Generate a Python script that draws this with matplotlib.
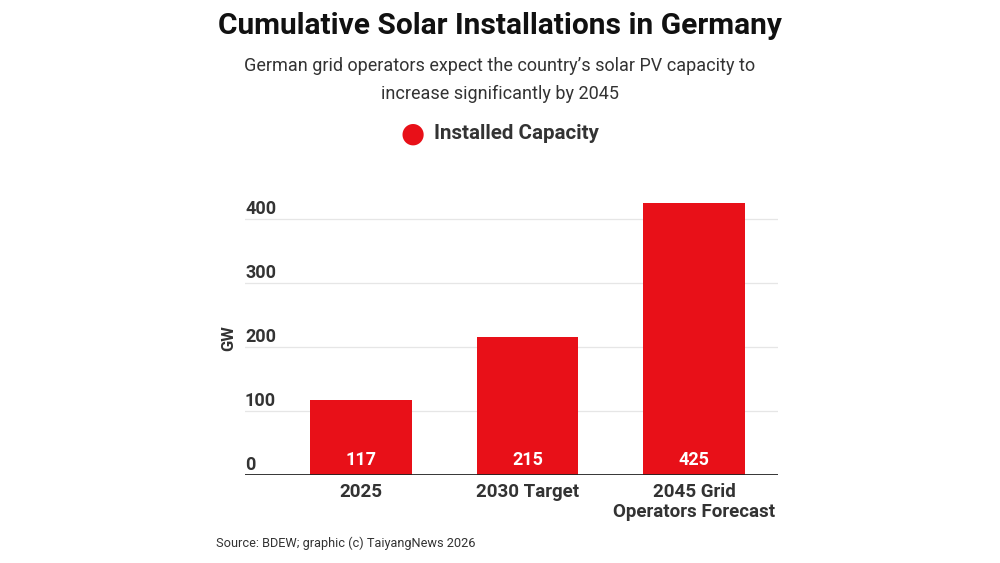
import matplotlib.pyplot as plt

categories = ['2025', '2030 Target', '2045 Grid\nOperators Forecast']
capacity = [117, 215, 425]
y_ticks = [0, 100, 200, 300, 400]

bar_color = '#e81018'
text_color = '#333333'

plt.rcParams['font.family'] = ['Roboto', 'DejaVu Sans']

fig = plt.figure(figsize=(10, 5.63), dpi=100)
ax = fig.add_axes([0.245, 0.1563, 0.533, 0.4831])

x = list(range(len(categories)))
bars = ax.bar(x, capacity, width=0.61, color=bar_color, zorder=2)
ax.set_xlim(-0.697, 2.505)
ax.set_ylim(0, 425)

# grid lines with labels sitting on top of them
for t in y_ticks:
    if t > 0:
        ax.axhline(t, color='#e6e6e6', lw=0.9, zorder=1)
    ax.annotate(str(t), xy=(0, t), xycoords=('axes fraction', 'data'),
                xytext=(0, 0.5), textcoords='offset points',
                ha='left', va='bottom', fontsize=13, fontweight='bold',
                color=text_color)
ax.axhline(0, color='#222222', lw=2, zorder=3)

for b, v in zip(bars, capacity):
    ax.annotate(str(v), xy=(b.get_x() + b.get_width() / 2, 0),
                xytext=(0, 4), textcoords='offset points',
                ha='center', va='bottom', fontsize=13, fontweight='bold',
                color='white', zorder=4)

ax.set_xticks(x)
ax.set_xticklabels(categories, fontsize=13.5, fontweight='bold', color=text_color,
                   linespacing=1.1)
ax.tick_params(axis='x', length=0, pad=6)
ax.set_yticks([])
for s in ax.spines.values():
    s.set_visible(False)

fig.text(0.229, 0.40, 'GW', rotation=90, ha='center', va='center',
         fontsize=12, fontweight='bold', color=text_color)

fig.text(0.5, 0.953, 'Cumulative Solar Installations in Germany', ha='center',
         va='center', fontsize=21.5, fontweight='bold', color='#111111')
fig.text(0.5, 0.882, "German grid operators expect the country\u2019s solar PV capacity to",
         ha='center', va='center', fontsize=13, color=text_color)
fig.text(0.5, 0.834, 'increase significantly by 2045', ha='center', va='center',
         fontsize=13, color=text_color)

fig.text(0.413, 0.762, '\u25cf', ha='center', va='center', fontsize=20,
         color=bar_color)
fig.text(0.434, 0.762, 'Installed Capacity', ha='left', va='center',
         fontsize=14.8, fontweight='bold', color=text_color)

fig.text(0.216, 0.035, 'Source: BDEW; graphic (c) TaiyangNews 2026', ha='left',
         va='center', fontsize=9.2, color=text_color)

fig.savefig('out.png', dpi=100)
